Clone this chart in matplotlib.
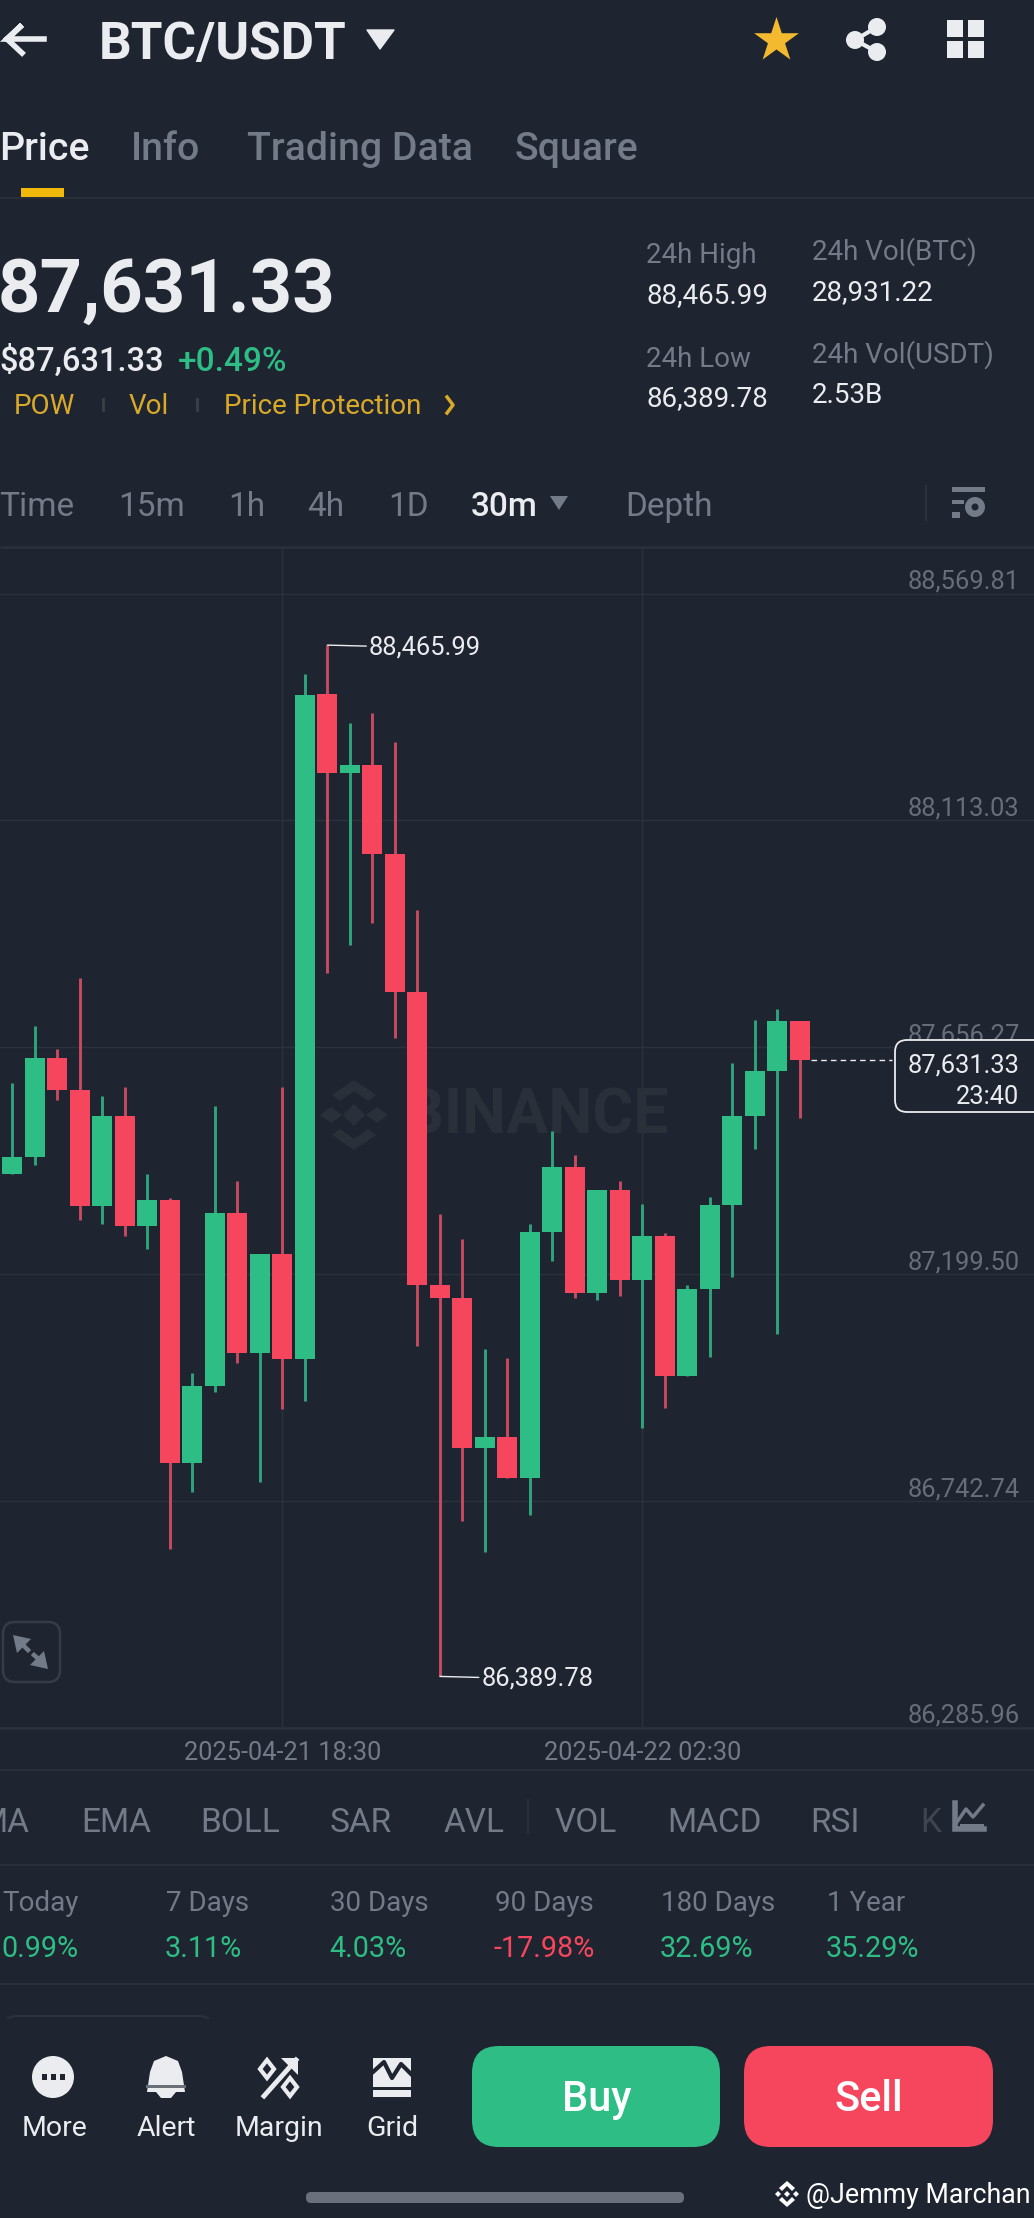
"""Binance BTC/USDT 30m candlestick screen, redrawn with matplotlib."""
import matplotlib

matplotlib.use("Agg")
import matplotlib.pyplot as plt
from matplotlib.patches import Circle, FancyBboxPatch, Polygon, Rectangle

plt.rcParams["font.family"] = ["Roboto", "DejaVu Sans"]

# ---------------------------------------------------------------------------
# Data
# ---------------------------------------------------------------------------
opens = [87401.4, 87435.9, 87634.1, 87570.1, 87337.4, 87517.2, 87295.6, 87348.5, 86819.1,
         86974.2, 87322.6, 87040.7, 87240.1, 87029.6, 88366.7, 88207.9, 88225.1, 88045.4,
         87767.1, 87178.6, 87151.5, 86849.9, 86872.0, 86788.3, 87284.5, 87416.2, 87162.6,
         87368.2, 87188.4, 87275.9, 86993.9, 87170.0, 87338.6, 87517.2, 87608.3, 87709.2]
closes = [87434.7, 87634.1, 87570.1, 87337.4, 87517.2, 87295.6, 87348.5, 86819.1, 86974.2,
          87322.6, 87040.7, 87240.1, 87029.6, 88365.5, 88207.9, 88225.1, 88045.4, 87767.1,
          87178.6, 87151.5, 86849.9, 86872.0, 86788.3, 87284.5, 87416.2, 87162.6, 87368.2,
          87188.4, 87275.9, 86993.9, 87170.0, 87338.6, 87517.2, 87608.3, 87709.2, 87631.33]
highs = [87583.7, 87699.4, 87652.6, 87795.4, 87559.0, 87576.3, 87401.4, 87352.2, 87001.3,
         87538.1, 87386.7, 87240.1, 87576.3, 88408.6, 88465.99, 88310.1, 88328.5, 88270.7,
         87932.1, 87320.2, 87269.7, 87049.3, 87030.8, 87300.5, 87487.6, 87439.6, 87368.2,
         87386.7, 87341.1, 87283.2, 87178.6, 87354.6, 87625.5, 87711.7, 87732.6, 87709.2]
lows = [87401.4, 87418.7, 87550.4, 87309.1, 87300.5, 87275.9, 87251.2, 86646.7, 86761.2,
        86963.1, 87021.0, 86780.9, 86928.7, 86944.7, 87806.5, 87863.1, 87906.2, 87676.0,
        87054.2, 86389.78, 86703.3, 86639.3, 86788.3, 86715.7, 87226.6, 87151.5, 87146.6,
        87156.4, 86889.3, 86931.1, 86993.9, 87033.3, 87193.4, 87451.9, 87078.9, 87514.7]

price_ticks = [88569.81, 88113.03, 87656.27, 87199.50, 86742.74, 86285.96]
time_tick_idx = [12, 28]
time_tick_labels = ["2025-04-21 18:30", "2025-04-22 02:30"]
last_price = 87631.33
high_idx, low_idx = 14, 19

period_names = ["Today", "7 Days", "30 Days", "90 Days", "180 Days", "1 Year"]
period_values = ["0.99%", "3.11%", "4.03%", "-17.98%", "32.69%", "35.29%"]

BG = "#1f2530"
LINE = "#2c323c"
GREEN = "#2ebd85"
RED = "#f6465d"
GREEN_WICK = "#2fa47c"
RED_WICK = "#c64a60"
YELLOW = "#d9a92a"
GREY = "#737b88"
DIM = "#666e7a"
WHITE = "#eaecef"

W, H = 1034, 2218
fig = plt.figure(figsize=(W / 100, H / 100), dpi=100, facecolor=BG)

# full-figure overlay, in screenshot pixels
ui = fig.add_axes([0, 0, 1, 1], zorder=3)
ui.set_xlim(0, W)
ui.set_ylim(H, 0)
ui.axis("off")


def txt(x, y, s, size, color=WHITE, weight="normal", ha="left", **kw):
    return ui.text(x, y, s, fontsize=size, color=color, fontweight=weight, ha=ha, va="baseline", **kw)


def box(x0, y0, x1, y1, radius, **kw):
    p = FancyBboxPatch((x0, y0), x1 - x0, y1 - y0, boxstyle=f"round,pad=0,rounding_size={radius}", **kw)
    ui.add_patch(p)
    return p


def hline(y, x0=0, x1=W, color=LINE, lw=1.2):
    ui.plot([x0, x1], [y, y], color=color, lw=lw, solid_capstyle="butt")


# ---------------------------------------------------------------------------
# Candles
# ---------------------------------------------------------------------------
CHART_TOP, CHART_BOTTOM = 547, 1728
ax = fig.add_axes([0, 1 - CHART_BOTTOM / H, 1, (CHART_BOTTOM - CHART_TOP) / H], zorder=1)
ax.set_facecolor(BG)
ax.set_xlim(-0.548, 45.4)
ax.set_ylim(86285.96, 88663.5)
for side in ("left", "right", "top"):
    ax.spines[side].set_visible(False)
ax.spines["bottom"].set_color(LINE)
ax.spines["bottom"].set_linewidth(1.8)

ax.set_axisbelow(True)
ax.grid(True, color=LINE, lw=1.0)
ax.set_yticks(price_ticks)
ax.set_yticklabels([f"{p:,.2f}" for p in price_ticks])
ax.yaxis.tick_right()
ax.tick_params(axis="y", length=0, pad=-10.4, labelsize=18.4, labelcolor=DIM)
for lab in ax.get_yticklabels():
    lab.set_ha("right")
    lab.set_va("bottom")
ax.set_xticks(time_tick_idx)
ax.set_xticklabels(time_tick_labels)
ax.tick_params(axis="x", length=0, pad=9, labelsize=18.3, labelcolor=GREY)

# watermark sits under the candles
wm = "#2a303a"
ax.text(404, 1134, "BINANCE", transform=ui.transData, fontsize=45, fontweight="bold", color=wm,
        ha="left", va="baseline", zorder=0.8)
cx, cy = 354, 1115
for pts in (
    [(cx, cy - 11), (cx + 11, cy), (cx, cy + 11), (cx - 11, cy)],
    [(cx - 34, cy), (cx - 23, cy - 8), (cx - 12, cy), (cx - 23, cy + 8)],
    [(cx + 34, cy), (cx + 23, cy - 8), (cx + 12, cy), (cx + 23, cy + 8)],
    [(cx, cy - 35), (cx + 22, cy - 20), (cx + 14, cy - 14), (cx, cy - 24), (cx - 14, cy - 14), (cx - 22, cy - 20)],
    [(cx, cy + 35), (cx + 22, cy + 20), (cx + 14, cy + 14), (cx, cy + 24), (cx - 14, cy + 14), (cx - 22, cy + 20)],
):
    ax.add_patch(Polygon(pts, closed=True, transform=ui.transData, color=wm, lw=0, zorder=0.8))

idx = list(range(len(opens)))
for i, o, c, hi, lo in zip(idx, opens, closes, highs, lows):
    up = c >= o
    ax.vlines(i, lo, hi, color=GREEN_WICK if up else RED_WICK, lw=2.1, zorder=2)
    ax.bar(i, abs(c - o), bottom=min(o, c), width=20 / 22.5, color=GREEN if up else RED, lw=0, zorder=3)

# high / low callouts
for i, val in ((high_idx, highs[high_idx]), (low_idx, lows[low_idx])):
    ax.annotate(f"{val:,.2f}", xy=(i, val), xytext=(30, 0),
                textcoords="offset points", color=WHITE, fontsize=18.4, va="center_baseline", ha="left",
                arrowprops=dict(arrowstyle="-", color=WHITE, lw=1, shrinkA=0, shrinkB=0), zorder=5)

# last price line and tag
ax.plot([35.5, 39.1], [last_price, last_price], color=WHITE, lw=1, dashes=(4, 3), zorder=4)
box(895, 1040, 1060, 1112, 12, fc=BG, ec=WHITE, lw=1.3)
txt(1019.5, 1072, f"{last_price:,.2f}", 18.4, ha="right")
txt(1019.5, 1104, "23:40", 18.4, ha="right")

# ---------------------------------------------------------------------------
# Header
# ---------------------------------------------------------------------------
ui.plot([44, 7, 22, 7, 22], [39, 39, 25, 39, 53], color=WHITE, lw=4, solid_joinstyle="miter")
txt(99, 59, "BTC/USDT", 37, weight="bold")
ui.add_patch(Polygon([(367, 30), (394, 30), (380, 49)], closed=True, color=WHITE, joinstyle="round", lw=1))
ui.scatter([776], [40], marker="*", s=1150, color="#f3ba2f", lw=0)
for px, py in ((877, 27), (855, 40), (877, 52)):
    ui.add_patch(Circle((px, py), 9, color=WHITE, lw=0))
ui.plot([877, 855, 877], [27, 40, 52], color=WHITE, lw=3)
for x0, y0 in ((947, 20), (968, 20), (947, 41), (968, 41)):
    ui.add_patch(Rectangle((x0, y0), 16, 17, color=WHITE, lw=0))

tab_x = [-1, 131, 247, 515]
tab_names = ["Price", "Info", "Trading Data", "Square"]
for x, name in zip(tab_x, tab_names):
    txt(x, 160, name, 28.3, color=WHITE if name == "Price" else GREY, weight="medium")
ui.add_patch(Rectangle((21, 188), 43, 9, color="#f0b90b", lw=0))
hline(197.5)

txt(-2, 312, "87,631.33", 53.5, weight="bold")
txt(-1, 371, "$87,631.33", 23.5, weight="medium")
txt(178, 371, "+0.49%", 24, color=GREEN, weight="medium")
txt(14, 414, "POW", 20, color=YELLOW)
txt(129, 414, "Vol", 20, color=YELLOW)
txt(224, 414, "Price Protection", 20, color=YELLOW)
ui.plot([447, 453, 447], [397, 405, 413], color=YELLOW, lw=2.5)
for x in (103, 197):
    ui.plot([x, x], [399, 410], color="#3a404a", lw=2)

txt(646, 263, "24h High", 20, color=GREY)
txt(646, 303, "88,465.99", 20)
txt(646, 367, "24h Low", 20, color=GREY)
txt(646, 406, "86,389.78", 20)
txt(812, 260, "24h Vol(BTC)", 20, color=GREY)
txt(812, 300, "28,931.22", 20)
txt(812, 363, "24h Vol(USDT)", 20, color=GREY)
txt(812, 403, "2.53B", 20)

for x, name in zip([-1, 118, 228, 307, 388, 625], ["Time", "15m", "1h", "4h", "1D", "Depth"]):
    txt(x, 516, name, 24, color=GREY)
txt(471, 516, "30m", 24, weight="medium")
ui.add_patch(Polygon([(550, 496), (568, 496), (559, 510)], closed=True, color=GREY, lw=0))
ui.plot([926, 926], [486, 520], color=LINE, lw=1.5)
ui.add_patch(Rectangle((952, 487), 33, 5, color=GREY, lw=0))
ui.add_patch(Rectangle((952, 500), 12, 4, color=GREY, lw=0))
ui.add_patch(Rectangle((952, 512), 8, 6, color=GREY, lw=0))
ui.add_patch(Circle((975, 507), 10, color=GREY, lw=0))
ui.add_patch(Circle((975, 507), 3.5, color=BG, lw=0))
hline(546.5, lw=1.8)

# expand button
box(3, 1622, 60, 1682, 12, fc="none", ec="#363c47", lw=1.8)
ui.plot([20, 28], [1642, 1650], color=GREY, lw=3.2)
ui.plot([34, 42], [1655, 1662], color=GREY, lw=3.2)
ui.add_patch(Polygon([(13, 1635), (31, 1639), (17, 1653)], closed=True, color=GREY, lw=0))
ui.add_patch(Polygon([(48, 1669), (30, 1665), (44, 1651)], closed=True, color=GREY, lw=0))

# ---------------------------------------------------------------------------
# Indicator and period rows
# ---------------------------------------------------------------------------
hline(1770)
txt(29, 1832, "MA", 24, color=GREY, ha="right")
for x, name in zip([81, 200, 330, 444, 555, 667, 810], ["EMA", "BOLL", "SAR", "AVL", "VOL", "MACD", "RSI"]):
    txt(x, 1832, name, 24, color=GREY)
txt(920, 1832, "K", 24, color="#3f4651")
ui.plot([528, 528], [1800, 1833], color=LINE, lw=1.5)
ui.plot([955, 955, 984], [1803, 1829, 1829], color=GREY, lw=4, solid_joinstyle="miter")
ui.plot([957, 966, 973, 983], [1822, 1809, 1817, 1805], color=GREY, lw=2.5)
ui.add_patch(Rectangle((960, 1824), 24, 7, color=GREY, lw=0))
hline(1864.5)

period_x = [2, 166, 330, 495, 661, 827]
for x, name, val in zip(period_x, period_names, period_values):
    txt(x, 1911, name, 20, color=GREY)
    txt(x - 1, 1957, val, 20.7, color=RED if val.startswith("-") else GREEN)
hline(1983.5)
ui.plot([8, 14, 202, 208], [2018, 2016, 2016, 2018], color=LINE, lw=1.5)

# ---------------------------------------------------------------------------
# Bottom bar
# ---------------------------------------------------------------------------
ui.add_patch(Circle((53, 2077), 21, color=WHITE, lw=0))
for x in (44, 53, 62):
    ui.add_patch(Rectangle((x - 2.5, 2074), 5, 6, color=BG, lw=0))
ui.add_patch(Polygon([(147, 2092), (150, 2072), (154, 2061), (166, 2056), (178, 2061), (182, 2072), (185, 2092)],
                     closed=True, color=WHITE, lw=0))
ui.add_patch(Rectangle((146, 2085), 40, 3, color="#6a7079", lw=0))
ui.add_patch(Polygon([(156, 2092), (176, 2092), (171, 2098), (161, 2098)], closed=True, color=WHITE, lw=0))

ui.plot([264, 296], [2096, 2060], color=WHITE, lw=3.5)
ui.add_patch(Polygon([(281, 2058), (298, 2058), (298, 2075)], closed=True, color=WHITE, lw=0))
ui.add_patch(Polygon([(267, 2060), (274, 2069), (267, 2078), (260, 2069)], closed=True, fc="none", ec=WHITE, lw=3))
ui.add_patch(Polygon([(290, 2078), (297, 2087), (290, 2096), (283, 2087)], closed=True, fc="none", ec=WHITE, lw=3))

ui.add_patch(Polygon([(373, 2058), (411, 2058), (411, 2087), (373, 2087)], closed=True, color=WHITE, lw=0))
ui.plot([373, 384, 392, 401, 411], [2072, 2062, 2078, 2064, 2074], color=BG, lw=3)
ui.add_patch(Rectangle((373, 2090), 38, 7, color=WHITE, lw=0))

for x, name in zip([54, 166, 279, 392], ["More", "Alert", "Margin", "Grid"]):
    txt(x, 2136, name, 20.5, ha="center")

box(472, 2046, 720, 2147, 27, fc=GREEN, lw=0)
box(744, 2046, 993, 2147, 27, fc=RED, lw=0)
txt(597, 2111, "Buy", 30, weight="medium", color="white", ha="center")
txt(869, 2111, "Sell", 30, weight="medium", color="white", ha="center")

box(306, 2192, 684, 2203, 5, fc="#6b717c", lw=0)

# repost credit
mx, my = 787, 2194
for pts in (
    [(mx, my - 13), (mx + 8, my - 6), (mx + 5, my - 3), (mx, my - 8), (mx - 5, my - 3), (mx - 8, my - 6)],
    [(mx, my + 13), (mx + 8, my + 6), (mx + 5, my + 3), (mx, my + 8), (mx - 5, my + 3), (mx - 8, my + 6)],
    [(mx, my - 3), (mx + 3, my), (mx, my + 3), (mx - 3, my)],
    [(mx - 9, my - 3), (mx - 6, my), (mx - 9, my + 3), (mx - 12, my)],
    [(mx + 9, my - 3), (mx + 6, my), (mx + 9, my + 3), (mx + 12, my)],
):
    ui.add_patch(Polygon(pts, closed=True, color="white", lw=0))
txt(806, 2203, "@Jemmy Marchan", 19.3, color="white")

fig.savefig("out.png", dpi=100, facecolor=BG)
plt.close(fig)
